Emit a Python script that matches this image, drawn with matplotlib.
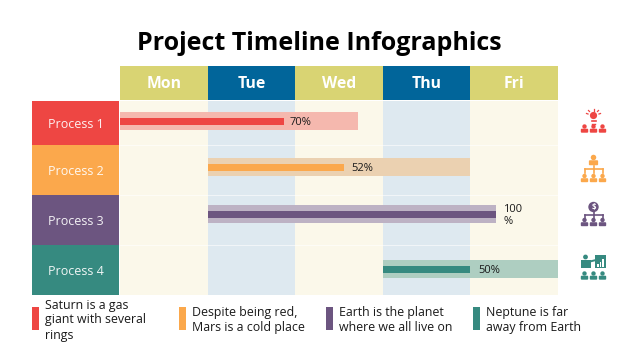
import matplotlib
matplotlib.use('Agg')
import matplotlib.pyplot as plt
import matplotlib.patches as patches

plt.rcParams['font.family'] = ['Open Sans', 'Noto Sans', 'DejaVu Sans']

days = ['Mon', 'Tue', 'Wed', 'Thu', 'Fri']
processes = ['Process 1', 'Process 2', 'Process 3', 'Process 4']
starts = [0, 1, 1, 3]
ends = [2.72, 4, 4.29, 5]
done = [1.87, 2.56, 4.29, 4]
pct_labels = ['70%', '52%', '100\n%', '50%']
notes = ['Saturn is a gas\ngiant with several\nrings', 'Despite being red,\nMars is a cold place',
         'Earth is the planet\nwhere we all live on', 'Neptune is far\naway from Earth']

colors = ['#EE4643', '#FBA84C', '#6C5580', '#368A80']
light_colors = ['#F5B8AE', '#EBD1B1', '#BDB2C4', '#AECEC1']
head_colors = ['#D9D473', '#01659A', '#D9D473', '#01659A', '#D9D473']
col_colors = ['#FBF8EA', '#DEE9F0', '#FBF8EA', '#DEE9F0', '#FBF8EA']
ink = '#1A1A1A'

W, H = 638, 359
fig = plt.figure(figsize=(W / 100, H / 100), dpi=100)
fig.patch.set_facecolor('white')

# gantt area, x in days
left, right, top, bottom = 120, 558, 101, 295
gantt = fig.add_axes([left / W, 1 - bottom / H, (right - left) / W, (bottom - top) / H])
gantt.set_xlim(0, 5)
gantt.set_ylim(bottom, top)
gantt.axis('off')

# pixel layout layer, on top of the gantt
ax = fig.add_axes([0, 0, 1, 1], zorder=3)
ax.set_xlim(0, W)
ax.set_ylim(H, 0)
ax.axis('off')

row_edges = [101, 145, 195, 245, 295]
bar_mid = [121, 167, 214, 269]
pct_x = [290, 351, 503, 478]

ax.text(319.5, 44, 'Project Timeline Infographics', ha='center', va='center',
        fontsize=18.0, fontweight='bold', color='black')

# day columns and headers
for i, day in enumerate(days):
    gantt.bar(i, bottom - top, width=1, bottom=top, align='edge', color=col_colors[i], lw=0)
    x0 = left + i * (right - left) / 5
    ax.add_patch(patches.Rectangle((x0, 66), (right - left) / 5, 34, fc=head_colors[i], ec='none'))
    ax.text(x0 + (right - left) / 10, 84.5, day, ha='center', va='center', fontsize=11.3,
            fontweight='bold', color='white')

# row separators
for y in row_edges[1:-1]:
    gantt.axhline(y, color='white', lw=0.6, alpha=0.7)

# process labels and bars
for i, name in enumerate(processes):
    y0, y1 = row_edges[i], row_edges[i + 1]
    ax.add_patch(patches.Rectangle((32, y0 + 0.4), 87, y1 - y0 - 0.8, fc=colors[i], ec='none'))
    ax.text(75.5, (y0 + y1) / 2 + 1.5, name, ha='center', va='center', fontsize=9.0, color='white', alpha=0.92)
    gantt.barh(bar_mid[i], ends[i] - starts[i], height=18, left=starts[i], color=light_colors[i], lw=0)
    gantt.barh(bar_mid[i] + 0.5, done[i] - starts[i], height=7, left=starts[i], color=colors[i], lw=0)
    ax.text(pct_x[i], bar_mid[i] + 1.5, pct_labels[i], ha='left', va='center', fontsize=8.0,
            color=ink, linespacing=1.2)

# legend notes
for x, c, note in zip([32, 179, 326, 473], colors, notes):
    ax.add_patch(patches.Rectangle((x, 307), 6.5, 23, fc=c, ec='none'))
    ax.text(x + 13, 320, note, ha='left', va='center', fontsize=8.9, color=ink, linespacing=1.2)


# small icons on the right
def person(cx, cy, c, s=1.0):
    ax.add_patch(patches.Circle((cx, cy), 2.2 * s, fc=c, ec='none'))
    ax.add_patch(patches.FancyBboxPatch((cx - 3.7 * s, cy + 2.2 * s), 7.4 * s, 4 * s,
                                        boxstyle='round,pad=0,rounding_size=1', fc=c, ec='none'))


def three_people(cy, c):
    for cx in (584.5, 593.5, 602.5):
        person(cx, cy, c)


def tree(y0, y1, y2, c):
    ax.plot([593.5, 593.5], [y0, y1], color=c, lw=1.2)
    ax.plot([584.5, 602.5], [y1, y1], color=c, lw=1.2)
    for cx in (584.5, 593.5, 602.5):
        ax.plot([cx, cx], [y1, y2], color=c, lw=1.2)


# bulb
ax.add_patch(patches.Circle((593.5, 115.5), 3.6, fc=colors[0], ec='none'))
for x0, y0, x1, y1 in [(593.5, 109, 593.5, 110.5), (588.5, 110.5, 589.5, 111.5), (598.5, 110.5, 597.5, 111.5),
                       (586.5, 113.5, 588, 114), (600.5, 113.5, 599, 114)]:
    ax.plot([x0, x1], [y0, y1], color=colors[0], lw=0.9)
ax.plot([591.5, 595.5], [121, 121], color=colors[0], lw=1.2)
ax.plot([592, 595], [123.5, 123.5], color=colors[0], lw=1)
three_people(126.5, colors[0])

# org chart
person(593.5, 157.5, colors[1], 1.25)
tree(166, 169, 173, colors[1])
three_people(176, colors[1])

# money
ax.add_patch(patches.Circle((593.5, 207), 5.2, fc=colors[2], ec='none'))
ax.text(593.5, 207, '$', ha='center', va='center', fontsize=5.5, fontweight='bold', color='white')
tree(212, 215, 218, colors[2])
three_people(220, colors[2])

# presenter with chart
c = colors[3]
ax.add_patch(patches.Rectangle((595, 255), 10.5, 13, fc=c, ec='none'))
for x0, h in zip((597, 599.7, 602.4), (2.5, 5, 8)):
    ax.add_patch(patches.Rectangle((x0, 266.5 - h), 1.6, h, fc='white', ec='none'))
ax.add_patch(patches.Circle((585.5, 257), 2.4, fc=c, ec='none'))
ax.add_patch(patches.Rectangle((581, 260), 10, 8, fc=c, ec='none'))
ax.plot([588, 596], [262, 260], color=c, lw=1.4)
three_people(273.5, c)

fig.savefig('out.png', dpi=100, facecolor='white')
